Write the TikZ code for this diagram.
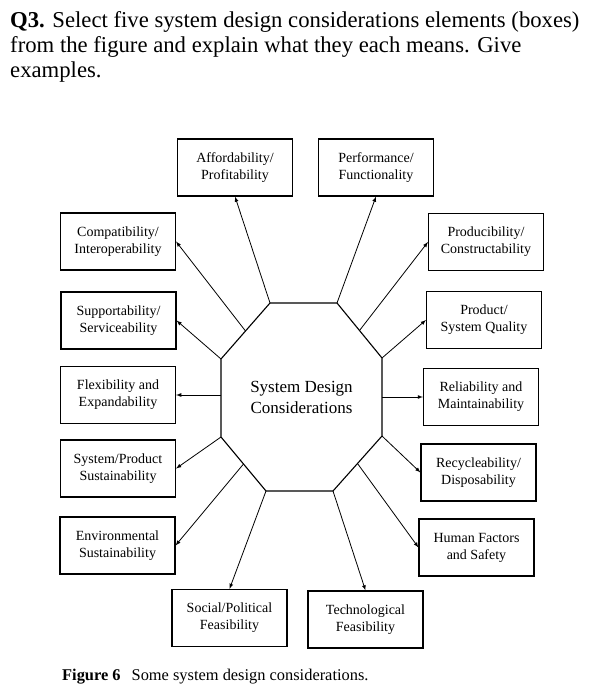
\documentclass[tikz,border=0pt]{standalone}
\usepackage{fontspec}
\setmainfont{Liberation Serif}
\usetikzlibrary{calc}
\tikzset{
  box/.style = {rectangle,draw=black,fill=white,line width=1.1,inner sep=0pt,minimum width=115pt,minimum height=57pt,align=center,font=\fontsize{14}{17}\selectfont},
  hub/.style = {align=center,inner sep=0pt,font=\fontsize{17}{21}\selectfont},
  octa/.style = {draw=black,line width=1.1},
  %
  edge/.style = {->,>=latex,line width=0.8,black},
  question/.style = {anchor=base west,inner sep=0pt,font=\fontsize{22.7}{25}\selectfont},
  caption/.style = {anchor=base west,inner sep=0pt,font=\fontsize{16.4}{19}\selectfont},
}

\begin{document}
\begin{tikzpicture}[x=1pt,y=-1pt]
    \useasboundingbox (0,0) rectangle (589,700);

    \node[question] at (10,28) (line1) {\textbf{Q3.} Select five system design considerations elements (boxes)};
    \node[question] at (10,53) (line2) {from the figure and explain what they each means. Give};
    \node[question] at (10,78) (line3) {examples.};

    % octagon corners
    \coordinate (t1) at (270,303);
    \coordinate (t2) at (337,303);
    \coordinate (r1) at (382,358);
    \coordinate (r2) at (382,436);
    \coordinate (b2) at (333,491);
    \coordinate (b1) at (266,491);
    \coordinate (l2) at (221,437);
    \coordinate (l1) at (221,359);
    \coordinate (ul) at ($(t1)!0.5!(l1)$);
    \coordinate (ur) at ($(t2)!0.5!(r1)$);
    \coordinate (lr) at ($(r2)!0.5!(b2)$);
    \coordinate (ll) at ($(b1)!0.5!(l2)$);

    \draw[octa] (t1) -- (t2) -- (r1) -- (r2) -- (b2) -- (b1) -- (l2) -- (l1) -- cycle;
    \node[hub] at (301.5,397) (sdc) {System Design\\Considerations};

    \node[box] at (235,167.5) (afford) {Affordability/\\Profitability};
    \node[box] at (376,167.5) (perf) {Performance/\\Functionality};
    \node[box] at (118,241.5) (compat) {Compatibility/\\Interoperability};
    \node[box] at (486,242) (produc) {Producibility/\\Constructability};
    \node[box] at (118.5,320.5) (support) {Supportability/\\Serviceability};
    \node[box] at (484,320) (quality) {Product/\\System Quality};
    \node[box] at (118,395) (flex) {Flexibility and\\Expandability};
    \node[box] at (481,397) (reliab) {Reliability and\\Maintainability};
    \node[box] at (118,468.5) (sustain) {System/Product\\Sustainability};
    \node[box] at (478.5,472.5) (recycle) {Recycleability/\\Disposability};
    \node[box] at (117.5,545.5) (environ) {Environmental\\Sustainability};
    \node[box] at (476.5,547.5) (human) {Human Factors\\and Safety};
    \node[box] at (229.5,618) (social) {Social/Political\\Feasibility};
    \node[box] at (365.5,619.5) (techno) {Technological\\Feasibility};

    \draw[edge] (t1) -- (afford.south);
    \draw[edge] (t2) -- (perf.south);
    \draw[edge] (ul) -- (compat.east);
    \draw[edge] (ur) -- (produc.west);
    \draw[edge] (l1) -- (support.east);
    \draw[edge] (r1) -- (quality.west);
    \draw[edge] (l1 |- flex) -- (flex.east);
    \draw[edge] (r1 |- reliab) -- (reliab.west);
    \draw[edge] (l2) -- (sustain.east);
    \draw[edge] (r2) -- (recycle.west);
    \draw[edge] (ll) -- (environ.east);
    \draw[edge] (lr) -- (human.west);
    \draw[edge] (b1) -- (social.north);
    \draw[edge] (b2) -- (techno.north);

    \node[caption] at (62,680) (fig) {\textbf{Figure 6}\hspace{11pt}Some system design considerations.};

\end{tikzpicture}
\end{document}
